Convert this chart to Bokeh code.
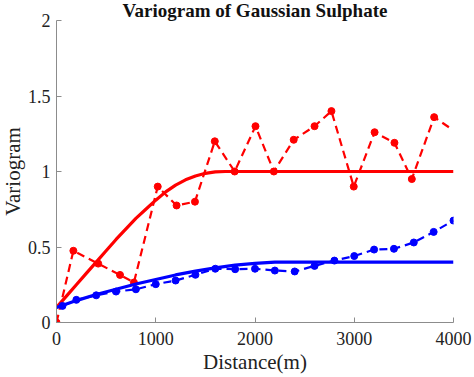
from bokeh.plotting import figure
from bokeh.models import FixedTicker, CustomJSTickFormatter, Title
from bokeh.embed import file_html
from bokeh.resources import INLINE

# Empirical variogram (red) - markers
red_x = [0, 170, 420, 640, 780, 1020, 1210, 1395, 1595, 1795, 2005, 2190, 2390, 2600, 2770, 2995, 3205, 3405, 3580, 3805]
red_y = [0, 0.475, 0.39, 0.315, 0.265, 0.90, 0.775, 0.80, 1.20, 1.00, 1.30, 1.00, 1.21, 1.30, 1.40, 0.90, 1.26, 1.19, 0.95, 1.36]
# dashed line end (no marker)
red_tail_x = [3960]
red_tail_y = [1.29]

# Fitted model (red)
red_fit_x = [0, 100, 200, 300, 400, 500, 600, 700, 800, 900, 1000, 1100, 1200, 1300, 1400, 1500, 1600, 1700, 4000]
red_fit_y = [0.10, 0.175, 0.25, 0.325, 0.40, 0.475, 0.55, 0.62, 0.69, 0.75, 0.81, 0.865, 0.91, 0.945, 0.97, 0.988, 0.997, 1.0, 1.0]

# Empirical variogram (blue)
blue_x = [60, 200, 400, 600, 800, 1000, 1200, 1400, 1600, 1800, 2000, 2200, 2400, 2600, 2800, 3000, 3200, 3400, 3600, 3800, 4000]
blue_y = [0.11, 0.15, 0.18, 0.205, 0.22, 0.254, 0.278, 0.316, 0.356, 0.353, 0.356, 0.344, 0.338, 0.375, 0.41, 0.44, 0.483, 0.488, 0.53, 0.60, 0.675]

# Fitted model (blue)
blue_fit_x = [0, 200, 400, 600, 800, 1000, 1200, 1400, 1600, 1800, 2000, 2200, 4000]
blue_fit_y = [0.10, 0.145, 0.185, 0.22, 0.255, 0.285, 0.315, 0.34, 0.362, 0.38, 0.392, 0.40, 0.40]

x_ticks = [0, 1000, 2000, 3000, 4000]
y_ticks = [0, 0.5, 1, 1.5, 2]
title_text = "Variogram of Gaussian Sulphate"
x_label = "Distance(m)"
y_label = "Variogram"

RED = "#FF0000"
BLUE = "#0000FF"
SERIF = "Liberation Serif"

p = figure(width=476, height=380, output_backend="svg", toolbar_location=None,
           x_range=(0, 4000), y_range=(0, 2), title=title_text,
           min_border_left=0, min_border_right=21, min_border_top=0, min_border_bottom=55)
p.styles = {"margin-left": "-2px", "margin-top": "-3px"}
p.title.align = "center"
p.title.text_font = SERIF
p.title.text_font_style = "bold"
p.title.text_font_size = "19px"
p.title.text_color = "#111111"
p.title.standoff = 0
p.title.offset = 0
p.background_fill_color = "white"
p.border_fill_color = "white"
p.outline_line_color = None
p.xgrid.visible = False
p.ygrid.visible = False

p.line(red_x + red_tail_x, red_y + red_tail_y, color=RED, line_width=2.2, line_dash="8 5")
p.scatter(red_x, red_y, size=7, color=RED)
p.line(red_fit_x, red_fit_y, color=RED, line_width=3.2)

p.line(blue_x, blue_y, color=BLUE, line_width=2.2, line_dash="8 5")
p.scatter(blue_x, blue_y, size=7, color=BLUE)
p.line(blue_fit_x, blue_fit_y, color=BLUE, line_width=3.2)

for ax in (p.xaxis[0], p.yaxis[0]):
    ax.axis_line_color = "#8c8c8c"
    ax.axis_line_width = 1
    ax.major_tick_line_color = "#8c8c8c"
    ax.major_tick_in = 5
    ax.major_tick_out = 0
    ax.minor_tick_line_color = None
    ax.major_label_text_font = SERIF
    ax.major_label_text_font_size = "18px"
    ax.major_label_text_color = "#222222"
    ax.axis_label_text_font = SERIF
    ax.axis_label_text_font_size = "21px"
    ax.axis_label_text_font_style = "normal"
    ax.axis_label_text_color = "#222222"

p.xaxis[0].ticker = FixedTicker(ticks=x_ticks)
p.yaxis[0].ticker = FixedTicker(ticks=y_ticks)
p.yaxis[0].formatter = CustomJSTickFormatter(code="return tick.toString();")
p.xaxis[0].axis_label = x_label
p.xaxis[0].major_label_standoff = 9
p.yaxis[0].major_label_standoff = 6
p.xaxis[0].axis_label_standoff = 2

p.add_layout(Title(text=y_label, align="center", text_font=SERIF, text_font_size="21px",
                   text_font_style="normal", text_color="#222222", standoff=0, offset=0), "left")

open("out.html", "w").write(file_html(p, INLINE))
